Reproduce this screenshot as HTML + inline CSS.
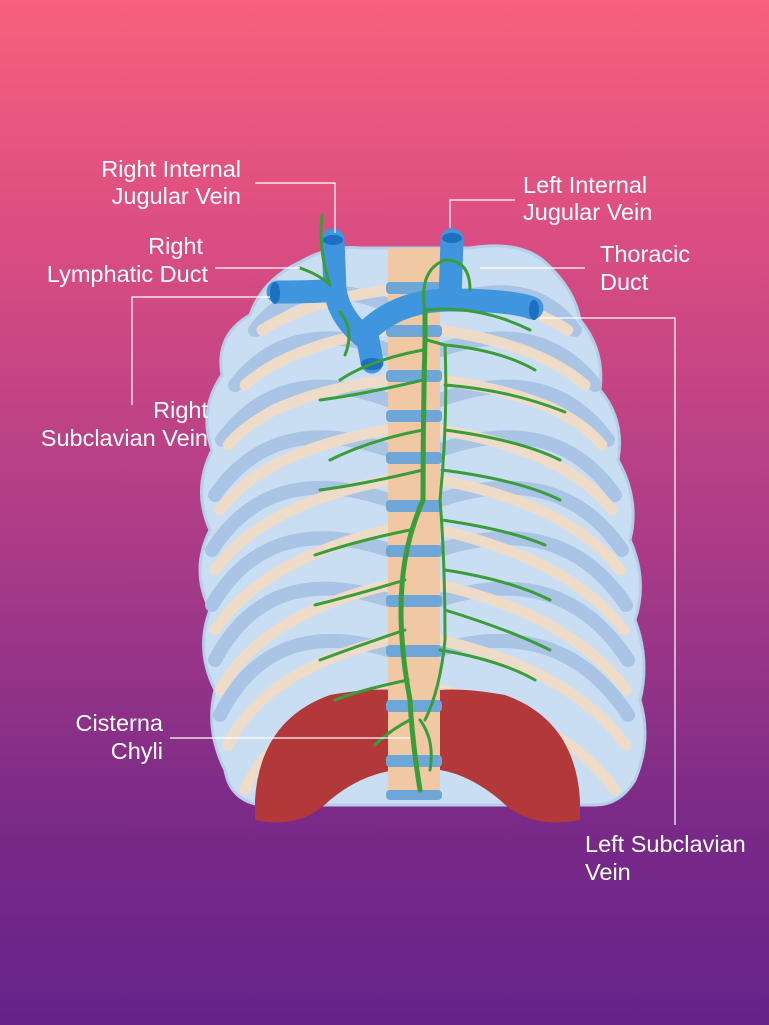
<!DOCTYPE html>
<html><head><meta charset="utf-8"><style>
html,body{margin:0;padding:0}
body{width:769px;height:1025px;overflow:hidden;background:linear-gradient(180deg,#f8607c 0%,#d84c82 25%,#a83a88 55%,#7a2a88 80%,#66228a 100%);font-family:"Liberation Sans",sans-serif}
svg{position:absolute;left:0;top:0}
</style></head><body>
<svg width="769" height="1025" viewBox="0 0 769 1025">
<path d="M300,262 Q330,245 360,248 L470,248 Q520,240 545,262 Q575,290 580,320 Q605,350 600,390 Q625,420 618,460 Q640,500 630,540 Q648,580 635,620 Q650,660 640,700 Q652,740 635,780 Q620,805 595,805 L260,805 Q230,800 225,770 Q205,730 215,690 Q195,650 210,610 Q190,570 210,530 Q192,490 212,450 Q198,410 222,375 Q215,335 250,315 Q262,280 300,262Z" fill="#c9def2" stroke="#b7cde8" stroke-width="3"/>
<g fill="none" stroke-linecap="round">
<g stroke="#a9c4e4" stroke-width="14">
<path d="M388,305 Q300,270 255,330"/><path d="M440,305 Q530,270 575,330"/>
<path d="M388,350 Q290,315 235,385"/><path d="M440,350 Q540,315 595,385"/>
<path d="M388,400 Q280,360 222,440"/><path d="M440,400 Q550,360 608,440"/>
<path d="M388,450 Q275,410 215,495"/><path d="M440,450 Q555,410 615,495"/>
<path d="M388,500 Q270,460 212,550"/><path d="M440,500 Q560,460 622,550"/>
<path d="M388,550 Q268,510 212,605"/><path d="M440,550 Q562,510 626,605"/>
<path d="M388,600 Q268,560 215,660"/><path d="M440,600 Q562,560 628,660"/>
<path d="M388,650 Q270,615 220,715"/><path d="M440,650 Q562,615 628,715"/>
</g>
<g stroke="#f1dcc6" stroke-width="11" opacity="0.95">
<path d="M388,290 Q310,300 262,330"/><path d="M440,290 Q520,300 568,330"/>
<path d="M388,330 Q290,345 245,385"/><path d="M440,330 Q540,345 585,385"/>
<path d="M388,380 Q270,395 228,445"/><path d="M440,380 Q560,395 602,445"/>
<path d="M388,430 Q265,450 220,510"/><path d="M440,430 Q565,450 612,510"/>
<path d="M388,480 Q262,505 215,570"/><path d="M440,480 Q570,505 620,570"/>
<path d="M388,530 Q262,560 215,630"/><path d="M440,530 Q570,560 624,630"/>
<path d="M388,585 Q262,615 220,690"/><path d="M440,585 Q570,615 626,690"/>
<path d="M388,640 Q265,670 228,745"/><path d="M440,640 Q570,670 626,745"/>
<path d="M388,690 Q275,720 245,790"/><path d="M440,690 Q565,720 615,790"/>
</g>
</g>
<path d="M255,800 Q260,720 330,695 Q370,688 395,690 L395,770 Q360,775 330,800 Q300,830 255,820Z" fill="#b2383a"/>
<path d="M580,800 Q575,720 505,695 Q465,688 440,690 L440,770 Q470,775 500,800 Q530,830 580,820Z" fill="#b2383a"/>
<rect x="388" y="248" width="52" height="550" fill="#f0c8a4"/>
<g fill="#6fa6d8">
<rect x="386" y="282" width="56" height="12" rx="4"/><rect x="386" y="325" width="56" height="12" rx="4"/>
<rect x="386" y="370" width="56" height="12" rx="4"/><rect x="386" y="410" width="56" height="12" rx="4"/>
<rect x="386" y="452" width="56" height="12" rx="4"/><rect x="386" y="500" width="56" height="12" rx="4"/>
<rect x="386" y="545" width="56" height="12" rx="4"/><rect x="386" y="595" width="56" height="12" rx="4"/>
<rect x="386" y="645" width="56" height="12" rx="4"/><rect x="386" y="700" width="56" height="12" rx="4"/>
<rect x="386" y="755" width="56" height="12" rx="4"/><rect x="386" y="790" width="56" height="10" rx="4"/>
</g>
<g fill="none" stroke="#3f95de" stroke-linecap="round">
<path d="M333,240 L335,290 Q340,320 368,340 M335,290 Q320,292 278,292 M368,340 L372,362 M368,330 Q400,300 450,300 Q510,300 532,308 M450,300 L452,240" stroke-width="23"/>
</g>
<ellipse cx="333" cy="240" rx="10" ry="5" fill="#1d6fbf"/>
<ellipse cx="452" cy="238" rx="10" ry="5" fill="#1d6fbf"/>
<ellipse cx="275" cy="293" rx="5" ry="11" fill="#1d6fbf"/>
<ellipse cx="534" cy="310" rx="5" ry="10" fill="#1d6fbf"/>
<ellipse cx="372" cy="364" rx="11" ry="6" fill="#1d6fbf"/>
<g fill="none" stroke="#3b9c3a" stroke-width="3" stroke-linecap="round">
<path d="M425,312 L425,340 Q423,420 423,500 Q410,530 405,560 Q395,620 410,700 Q412,740 420,790" stroke-width="5"/>
<path d="M427,340 L445,345 Q448,420 440,500 Q445,560 445,640 Q440,690 425,720"/>
<path d="M425,312 Q418,270 445,260 Q470,260 470,290"/>
<path d="M322,215 Q318,250 330,285 M300,268 Q320,275 330,285 M340,312 Q355,330 345,355"/>
<path d="M425,310 Q480,305 530,330 M445,345 Q500,350 535,370 M445,385 Q510,390 565,412 M445,430 Q520,440 560,460 M442,470 Q520,480 560,500 M442,520 Q510,530 545,545 M445,570 Q510,580 550,600 M445,610 Q510,630 550,650 M440,650 Q500,660 535,680"/>
<path d="M423,350 Q370,360 340,380 M423,380 Q360,395 320,400 M423,430 Q370,440 330,460 M423,470 Q360,485 320,490 M410,530 Q360,540 315,555 M405,580 Q355,595 315,605 M405,630 Q360,645 320,660 M408,680 Q360,690 335,700 M410,720 Q390,730 375,745 M420,720 Q435,740 430,770"/>
</g>
<g fill="none" stroke="#fff" stroke-width="1.2">
<path d="M255,183 H335 V233"/>
<path d="M515,200 H450 V228"/>
<path d="M215,268 H300"/>
<path d="M585,268 H480"/>
<path d="M270,297 H132 V405"/>
<path d="M540,318 H675 V825"/>
<path d="M170,738 H410"/>
</g>
<g fill="#fff" font-family="Liberation Sans, sans-serif" font-size="23.5">
<text x="241" y="177" text-anchor="end">Right Internal</text>
<text x="241" y="204" text-anchor="end">Jugular Vein</text>
<text x="523" y="193">Left Internal</text>
<text x="523" y="220">Jugular Vein</text>
<text x="203" y="254" text-anchor="end">Right</text>
<text x="208" y="282" text-anchor="end">Lymphatic Duct</text>
<text x="600" y="262">Thoracic</text>
<text x="600" y="290">Duct</text>
<text x="208" y="418" text-anchor="end">Right</text>
<text x="208" y="446" text-anchor="end">Subclavian Vein</text>
<text x="163" y="731" text-anchor="end">Cisterna</text>
<text x="163" y="759" text-anchor="end">Chyli</text>
<text x="585" y="852">Left Subclavian</text>
<text x="585" y="880">Vein</text>
</g>
</svg>
</body></html>
